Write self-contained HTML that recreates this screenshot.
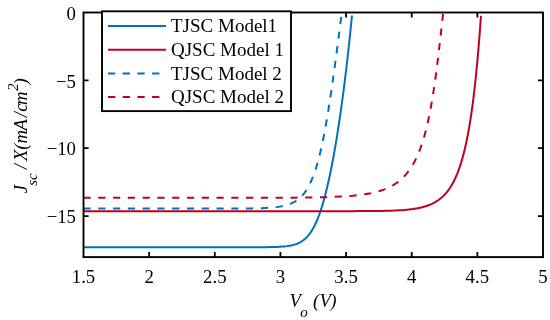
<!DOCTYPE html>
<html><head><meta charset="utf-8"><title>J-V curves</title>
<style>html,body{margin:0;padding:0;background:#fff}svg{display:block}</style></head>
<body>
<svg width="550" height="320" viewBox="0 0 550 320">
<rect width="550" height="320" fill="#fff"/>
<g fill="none" stroke-width="2" stroke-linejoin="round">
<path d="M83.50 247.25 L153.81 247.25 L156.27 247.25 L158.73 247.25 L161.19 247.25 L163.66 247.25 L166.12 247.25 L168.58 247.25 L171.05 247.25 L173.51 247.25 L175.97 247.25 L178.44 247.25 L180.90 247.25 L183.36 247.25 L185.83 247.25 L188.29 247.25 L190.75 247.25 L193.22 247.25 L195.68 247.25 L198.14 247.25 L200.61 247.25 L203.07 247.25 L205.53 247.25 L207.99 247.25 L210.46 247.25 L212.92 247.25 L215.38 247.25 L217.85 247.25 L220.31 247.25 L222.77 247.25 L225.24 247.25 L227.70 247.25 L230.16 247.25 L232.63 247.25 L235.09 247.25 L237.55 247.25 L240.02 247.25 L242.48 247.24 L244.94 247.24 L247.41 247.24 L249.87 247.23 L252.33 247.23 L254.80 247.22 L257.26 247.21 L259.73 247.20 L262.19 247.19 L264.66 247.16 L267.12 247.13 L269.59 247.10 L272.06 247.05 L274.53 246.98 L277.00 246.89 L279.48 246.77 L281.96 246.61 L284.44 246.40 L286.93 246.12 L289.44 245.75 L291.95 245.25 L294.49 244.60 L297.04 243.72 L299.63 242.56 L301.63 241.41 L303.29 240.27 L304.72 239.13 L305.97 237.99 L307.10 236.85 L308.11 235.71 L309.05 234.57 L309.91 233.43 L310.71 232.29 L311.46 231.15 L312.17 230.00 L312.84 228.86 L313.48 227.72 L314.09 226.58 L314.67 225.44 L315.22 224.30 L315.76 223.16 L316.27 222.02 L316.77 220.88 L317.25 219.74 L317.72 218.59 L318.17 217.45 L318.61 216.31 L319.03 215.17 L319.45 214.03 L319.85 212.89 L320.25 211.75 L320.64 210.61 L321.01 209.47 L321.38 208.33 L321.74 207.19 L322.10 206.04 L322.44 204.90 L322.79 203.76 L323.12 202.62 L323.45 201.48 L323.77 200.34 L324.09 199.20 L324.40 198.06 L324.71 196.92 L325.01 195.78 L325.31 194.63 L325.60 193.49 L325.89 192.35 L326.18 191.21 L326.46 190.07 L326.74 188.93 L327.02 187.79 L327.29 186.65 L327.55 185.51 L327.82 184.37 L328.08 183.22 L328.34 182.08 L328.60 180.94 L328.85 179.80 L329.10 178.66 L329.35 177.52 L329.59 176.38 L329.83 175.24 L330.07 174.10 L330.31 172.96 L330.55 171.81 L330.78 170.67 L331.01 169.53 L331.24 168.39 L331.47 167.25 L331.69 166.11 L331.91 164.97 L332.13 163.83 L332.35 162.69 L332.57 161.55 L332.79 160.40 L333.00 159.26 L333.21 158.12 L333.42 156.98 L333.63 155.84 L333.84 154.70 L334.04 153.56 L334.25 152.42 L334.45 151.28 L334.65 150.14 L334.85 148.99 L335.05 147.85 L335.24 146.71 L335.44 145.57 L335.63 144.43 L335.82 143.29 L336.01 142.15 L336.20 141.01 L336.39 139.87 L336.58 138.73 L336.77 137.59 L336.95 136.44 L337.14 135.30 L337.32 134.16 L337.50 133.02 L337.68 131.88 L337.86 130.74 L338.04 129.60 L338.21 128.46 L338.39 127.32 L338.57 126.18 L338.74 125.03 L338.91 123.89 L339.08 122.75 L339.25 121.61 L339.42 120.47 L339.59 119.33 L339.76 118.19 L339.93 117.05 L340.10 115.91 L340.26 114.77 L340.42 113.62 L340.59 112.48 L340.75 111.34 L340.91 110.20 L341.07 109.06 L341.23 107.92 L341.39 106.78 L341.55 105.64 L341.71 104.50 L341.87 103.36 L342.02 102.21 L342.18 101.07 L342.33 99.93 L342.48 98.79 L342.64 97.65 L342.79 96.51 L342.94 95.37 L343.09 94.23 L343.24 93.09 L343.39 91.95 L343.54 90.80 L343.69 89.66 L343.83 88.52 L343.98 87.38 L344.12 86.24 L344.27 85.10 L344.41 83.96 L344.56 82.82 L344.70 81.68 L344.84 80.54 L344.98 79.40 L345.12 78.25 L345.26 77.11 L345.40 75.97 L345.54 74.83 L345.68 73.69 L345.82 72.55 L345.95 71.41 L346.09 70.27 L346.23 69.13 L346.36 67.99 L346.49 66.84 L346.63 65.70 L346.76 64.56 L346.89 63.42 L347.03 62.28 L347.16 61.14 L347.29 60.00 L347.42 58.86 L347.55 57.72 L347.68 56.58 L347.81 55.43 L347.93 54.29 L348.06 53.15 L348.19 52.01 L348.31 50.87 L348.44 49.73 L348.57 48.59 L348.69 47.45 L348.81 46.31 L348.94 45.17 L349.06 44.02 L349.18 42.88 L349.30 41.74 L349.43 40.60 L349.55 39.46 L349.67 38.32 L349.79 37.18 L349.91 36.04 L350.03 34.90 L350.14 33.76 L350.26 32.61 L350.38 31.47 L350.50 30.33 L350.61 29.19 L350.73 28.05 L350.84 26.91 L350.96 25.77 L351.07 24.63 L351.19 23.49 L351.30 22.35 L351.41 21.20 L351.52 20.06 L351.64 18.92 L351.75 17.78 L351.86 16.64 L351.97 15.50 L351.97 15.50" stroke="#0070c0"/>
<path d="M83.50 211.20 L154.76 211.20 L159.30 211.20 L163.83 211.20 L168.37 211.20 L172.90 211.20 L177.43 211.20 L181.97 211.20 L186.50 211.20 L191.04 211.20 L195.57 211.20 L200.11 211.20 L204.64 211.20 L209.17 211.20 L213.71 211.20 L218.24 211.20 L222.78 211.20 L227.31 211.20 L231.85 211.20 L236.38 211.20 L240.91 211.20 L245.45 211.20 L249.98 211.20 L254.52 211.20 L259.05 211.20 L263.59 211.20 L268.12 211.20 L272.65 211.20 L277.19 211.20 L281.72 211.20 L286.26 211.20 L290.79 211.20 L295.33 211.20 L299.86 211.20 L304.39 211.19 L308.93 211.19 L313.46 211.19 L318.00 211.19 L322.53 211.19 L327.07 211.19 L331.60 211.18 L336.13 211.18 L340.67 211.17 L345.20 211.17 L349.74 211.16 L354.27 211.14 L358.80 211.12 L363.34 211.10 L367.87 211.07 L372.41 211.02 L376.94 210.97 L381.47 210.89 L386.00 210.79 L390.53 210.66 L395.07 210.48 L399.59 210.24 L404.12 209.93 L408.65 209.51 L413.17 208.95 L417.69 208.21 L422.20 207.22 L425.63 206.26 L428.44 205.30 L430.83 204.34 L432.89 203.38 L434.72 202.41 L436.35 201.45 L437.83 200.49 L439.18 199.53 L440.42 198.57 L441.57 197.60 L442.63 196.64 L443.63 195.68 L444.57 194.72 L445.45 193.76 L446.29 192.79 L447.08 191.83 L447.83 190.87 L448.54 189.91 L449.23 188.95 L449.88 187.98 L450.51 187.02 L451.11 186.06 L451.69 185.10 L452.24 184.14 L452.78 183.18 L453.30 182.21 L453.80 181.25 L454.28 180.29 L454.75 179.33 L455.20 178.37 L455.64 177.40 L456.07 176.44 L456.49 175.48 L456.89 174.52 L457.28 173.56 L457.67 172.59 L458.04 171.63 L458.40 170.67 L458.76 169.71 L459.10 168.75 L459.44 167.78 L459.77 166.82 L460.09 165.86 L460.41 164.90 L460.72 163.94 L461.02 162.97 L461.31 162.01 L461.60 161.05 L461.89 160.09 L462.16 159.13 L462.44 158.17 L462.71 157.20 L462.97 156.24 L463.23 155.28 L463.48 154.32 L463.73 153.36 L463.97 152.39 L464.21 151.43 L464.68 149.51 L465.13 147.58 L465.57 145.66 L466.00 143.74 L466.41 141.81 L466.81 139.89 L467.20 137.96 L467.58 136.04 L467.94 134.12 L468.30 132.19 L468.65 130.27 L468.99 128.35 L469.32 126.42 L469.64 124.50 L469.96 122.57 L470.27 120.65 L470.57 118.73 L470.86 116.80 L471.15 114.88 L471.43 112.95 L471.71 111.03 L471.98 109.11 L472.25 107.18 L472.51 105.26 L472.76 103.34 L473.01 101.41 L473.25 99.49 L473.50 97.56 L473.73 95.64 L473.96 93.72 L474.19 91.79 L474.41 89.87 L474.63 87.94 L474.85 86.02 L475.06 84.10 L475.27 82.17 L475.48 80.25 L475.68 78.33 L475.88 76.40 L476.08 74.48 L476.27 72.55 L476.46 70.63 L476.65 68.71 L476.83 66.78 L477.02 64.86 L477.20 62.93 L477.37 61.01 L477.55 59.09 L477.72 57.16 L477.89 55.24 L478.06 53.32 L478.23 51.39 L478.39 49.47 L478.55 47.54 L478.71 45.62 L478.87 43.70 L479.02 41.77 L479.18 39.85 L479.33 37.92 L479.48 36.00 L479.63 34.08 L479.78 32.15 L479.92 30.23 L480.06 28.31 L480.21 26.38 L480.35 24.46 L480.49 22.53 L480.62 20.61 L480.76 18.69 L480.89 16.76 L480.96 15.80" stroke="#c00020"/>
<path d="M83.50 208.55 L94.31 208.55 L97.60 208.55 L100.88 208.55 L104.17 208.55 L107.45 208.55 L110.74 208.55 L114.02 208.55 L117.30 208.55 L120.59 208.55 L123.87 208.55 L127.16 208.55 L130.44 208.55 L133.73 208.55 L137.01 208.55 L140.29 208.55 L143.58 208.55 L146.86 208.55 L150.15 208.55 L153.43 208.55 L156.72 208.55 L160.00 208.55 L163.28 208.55 L166.57 208.55 L169.85 208.55 L173.14 208.55 L176.42 208.55 L179.71 208.55 L182.99 208.55 L186.27 208.55 L189.56 208.55 L192.84 208.55 L196.13 208.55 L199.41 208.55 L202.70 208.55 L205.98 208.55 L209.26 208.55 L212.55 208.54 L215.83 208.54 L219.12 208.54 L222.40 208.54 L225.69 208.53 L228.97 208.53 L232.25 208.52 L235.54 208.51 L238.82 208.49 L242.11 208.48 L245.39 208.45 L248.68 208.42 L251.96 208.38 L255.25 208.32 L258.53 208.25 L261.82 208.15 L265.11 208.02 L268.40 207.84 L271.68 207.61 L274.97 207.30 L278.27 206.88 L281.56 206.33 L284.86 205.60 L288.17 204.63 L290.68 203.68 L292.74 202.74 L294.50 201.79 L296.03 200.85 L297.38 199.90 L298.60 198.96 L299.71 198.01 L300.72 197.07 L301.65 196.12 L302.52 195.17 L303.33 194.23 L304.09 193.28 L304.80 192.34 L305.48 191.39 L306.12 190.45 L306.73 189.50 L307.31 188.56 L307.87 187.61 L308.40 186.67 L308.91 185.72 L309.40 184.78 L309.88 183.83 L310.33 182.88 L310.77 181.94 L311.20 180.99 L311.62 180.05 L312.02 179.10 L312.41 178.16 L312.79 177.21 L313.16 176.27 L313.51 175.32 L313.86 174.38 L314.21 173.43 L314.54 172.49 L314.86 171.54 L315.18 170.60 L315.49 169.65 L315.80 168.70 L316.10 167.76 L316.39 166.81 L316.68 165.87 L316.96 164.92 L317.23 163.98 L317.50 163.03 L317.77 162.09 L318.03 161.14 L318.29 160.20 L318.79 158.31 L319.28 156.41 L319.75 154.52 L320.21 152.63 L320.66 150.74 L321.09 148.85 L321.52 146.96 L321.93 145.07 L322.34 143.18 L322.74 141.29 L323.13 139.40 L323.51 137.51 L323.88 135.62 L324.25 133.73 L324.61 131.84 L324.96 129.94 L325.31 128.05 L325.65 126.16 L325.99 124.27 L326.32 122.38 L326.65 120.49 L326.98 118.60 L327.29 116.71 L327.61 114.82 L327.92 112.93 L328.23 111.04 L328.53 109.15 L328.84 107.26 L329.13 105.36 L329.43 103.47 L329.72 101.58 L330.01 99.69 L330.30 97.80 L330.58 95.91 L330.86 94.02 L331.14 92.13 L331.42 90.24 L331.70 88.35 L331.97 86.46 L332.24 84.57 L332.51 82.68 L332.78 80.79 L333.05 78.89 L333.31 77.00 L333.57 75.11 L333.84 73.22 L334.10 71.33 L334.36 69.44 L334.61 67.55 L334.87 65.66 L335.13 63.77 L335.38 61.88 L335.63 59.99 L335.89 58.10 L336.14 56.21 L336.39 54.31 L336.64 52.42 L336.89 50.53 L337.14 48.64 L337.38 46.75 L337.63 44.86 L337.88 42.97 L338.12 41.08 L338.37 39.19 L338.61 37.30 L338.86 35.41 L339.10 33.52 L339.34 31.63 L339.58 29.74 L339.83 27.84 L340.07 25.95 L340.31 24.06 L340.55 22.17 L340.79 20.28 L341.03 18.39 L341.27 16.50 L341.27 16.50" stroke="#0070c0" stroke-dasharray="7.2 7.58"/>
<path d="M83.50 197.80 L86.07 197.80 L92.59 197.80 L99.11 197.80 L105.63 197.80 L112.15 197.80 L118.67 197.80 L125.20 197.80 L131.72 197.80 L138.24 197.80 L144.76 197.80 L151.28 197.80 L157.80 197.80 L164.33 197.80 L170.85 197.80 L177.37 197.80 L183.89 197.80 L190.41 197.80 L196.94 197.80 L203.46 197.80 L209.98 197.80 L216.50 197.79 L223.02 197.79 L229.54 197.79 L236.06 197.79 L242.59 197.78 L249.11 197.78 L255.63 197.77 L262.15 197.76 L268.67 197.75 L275.19 197.73 L281.71 197.71 L288.23 197.68 L294.74 197.64 L301.26 197.59 L307.77 197.51 L314.28 197.42 L320.79 197.30 L327.29 197.13 L333.78 196.91 L340.27 196.61 L346.74 196.22 L353.20 195.70 L359.64 195.01 L366.05 194.09 L370.94 193.19 L374.93 192.28 L378.30 191.38 L381.21 190.47 L383.77 189.57 L386.05 188.66 L388.10 187.76 L389.97 186.85 L391.68 185.95 L393.26 185.04 L394.72 184.14 L396.09 183.23 L397.36 182.33 L398.56 181.42 L399.69 180.52 L400.75 179.61 L401.76 178.71 L402.72 177.80 L403.63 176.90 L404.50 175.99 L405.33 175.09 L406.13 174.18 L406.89 173.28 L407.62 172.37 L408.32 171.47 L409.00 170.56 L409.65 169.66 L410.27 168.75 L410.88 167.85 L411.47 166.94 L412.03 166.04 L412.58 165.13 L413.11 164.23 L413.63 163.32 L414.12 162.42 L414.61 161.51 L415.08 160.61 L415.54 159.70 L415.98 158.80 L416.42 157.89 L416.84 156.99 L417.25 156.08 L417.65 155.18 L418.05 154.27 L418.43 153.37 L418.80 152.46 L419.17 151.56 L419.52 150.65 L419.87 149.75 L420.21 148.84 L420.55 147.94 L420.87 147.03 L421.19 146.13 L421.50 145.22 L421.81 144.32 L422.11 143.41 L422.70 141.60 L423.26 139.79 L423.80 137.98 L424.32 136.17 L424.83 134.36 L425.31 132.55 L425.79 130.74 L426.25 128.93 L426.69 127.12 L427.12 125.31 L427.54 123.50 L427.95 121.69 L428.34 119.88 L428.73 118.07 L429.10 116.26 L429.47 114.45 L429.82 112.64 L430.17 110.83 L430.51 109.02 L430.85 107.21 L431.17 105.40 L431.49 103.59 L431.81 101.78 L432.11 99.97 L432.41 98.16 L432.71 96.35 L433.00 94.54 L433.28 92.73 L433.56 90.92 L433.84 89.11 L434.11 87.30 L434.37 85.49 L434.64 83.68 L434.89 81.87 L435.15 80.06 L435.40 78.25 L435.65 76.44 L435.89 74.63 L436.14 72.82 L436.38 71.01 L436.61 69.20 L436.85 67.39 L437.08 65.58 L437.31 63.77 L437.53 61.96 L437.76 60.15 L437.98 58.34 L438.20 56.53 L438.42 54.72 L438.64 52.91 L438.85 51.10 L439.07 49.29 L439.28 47.48 L439.49 45.67 L439.70 43.86 L439.91 42.05 L440.11 40.24 L440.32 38.43 L440.53 36.62 L440.73 34.81 L440.93 33.00 L441.14 31.19 L441.34 29.38 L441.54 27.57 L441.74 25.76 L441.94 23.95 L442.14 22.14 L442.34 20.33 L442.54 18.52 L442.73 16.71 L442.93 14.90 L443.03 14.00" stroke="#c00020" stroke-dasharray="7.2 7.58"/>
</g>
<g stroke="#000" stroke-width="1.9" fill="none">
<rect x="83.5" y="12.5" width="459.5" height="244.6"/>
</g>
<g stroke="#000" stroke-width="1.8">
<path d="M149.14 257.1 v-5.1 M149.14 12.5 v5.1"/>
<path d="M214.79 257.1 v-5.1 M214.79 12.5 v5.1"/>
<path d="M280.43 257.1 v-5.1 M280.43 12.5 v5.1"/>
<path d="M346.07 257.1 v-5.1 M346.07 12.5 v5.1"/>
<path d="M411.71 257.1 v-5.1 M411.71 12.5 v5.1"/>
<path d="M477.36 257.1 v-5.1 M477.36 12.5 v5.1"/>
<path d="M83.5 80.36 h5.1 M543.0 80.36 h-5.1"/>
<path d="M83.5 148.22 h5.1 M543.0 148.22 h-5.1"/>
<path d="M83.5 216.08 h5.1 M543.0 216.08 h-5.1"/>
</g>
<g font-family="'Liberation Serif', serif" font-size="18.8" fill="#000">
<text x="83.50" y="283" text-anchor="middle">1.5</text>
<text x="149.14" y="283" text-anchor="middle">2</text>
<text x="214.79" y="283" text-anchor="middle">2.5</text>
<text x="280.43" y="283" text-anchor="middle">3</text>
<text x="346.07" y="283" text-anchor="middle">3.5</text>
<text x="411.71" y="283" text-anchor="middle">4</text>
<text x="477.36" y="283" text-anchor="middle">4.5</text>
<text x="543.00" y="283" text-anchor="middle">5</text>
<text x="76" y="19.70" text-anchor="end">0</text>
<text x="76" y="87.56" text-anchor="end">−5</text>
<text x="76" y="155.42" text-anchor="end">−10</text>
<text x="76" y="223.28" text-anchor="end">−15</text>
</g>
<g font-family="'Liberation Serif', serif" font-style="italic" font-size="18.7" fill="#000">
<text y="306.5"><tspan x="289.45">V</tspan><tspan font-size="15" dy="10" x="300.3">o</tspan><tspan dy="-10" x="308 313 319.5 330.25"> (V)</tspan></text>
<text transform="translate(27 0) rotate(-90)"><tspan x="-193.15">J</tspan><tspan font-size="15" dy="10" x="-185.75">sc</tspan><tspan dy="-10" x="-174 -169.22 -161.1 -149.85 -143.62 -130.5 -117.35 -111.75 -105"> /X(mA/cm</tspan><tspan font-size="15" dy="-9" x="-90.88">2</tspan><tspan dy="9" x="-84.38">)</tspan></text>
</g>
<rect x="102" y="11.3" width="189" height="99.8" fill="#fff" stroke="#000" stroke-width="1.9"/>
<g font-family="'Liberation Serif', serif" font-size="19" fill="#000">
<path d="M108 26.0 H166" stroke="#0070c0" stroke-width="2" fill="none"/>
<text x="171" y="32.05">TJSC Model1</text>
<path d="M108 49.75 H166" stroke="#c00020" stroke-width="2" fill="none"/>
<text x="171" y="55.80">QJSC Model 1</text>
<path d="M108 73.45 H166" stroke="#0070c0" stroke-width="2" fill="none" stroke-dasharray="7.3 7.4"/>
<text x="171" y="79.50">TJSC Model 2</text>
<path d="M108 97.1 H166" stroke="#c00020" stroke-width="2" fill="none" stroke-dasharray="7.3 7.4"/>
<text x="171" y="103.15">QJSC Model 2</text>
</g>
</svg>
</body></html>
